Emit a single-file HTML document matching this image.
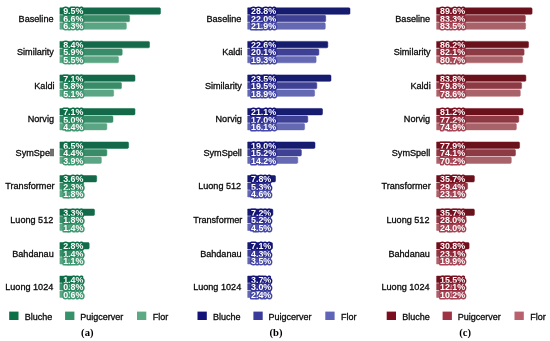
<!DOCTYPE html>
<html><head><meta charset="utf-8"><title>Error rates</title>
<style>
html,body{margin:0;padding:0;background:#fff;}
svg{display:block;}
.l{font-family:"Liberation Sans",Arial,sans-serif;fill:#0a0a0a;stroke:#0a0a0a;stroke-width:0.3;}
.v{font-family:"Liberation Sans",Arial,sans-serif;font-weight:bold;fill:#fff;stroke-linejoin:round;paint-order:stroke fill;}
.c{font-family:"Liberation Serif","Times New Roman",serif;font-weight:bold;fill:#000;}
</style></head>
<body>
<svg width="550" height="341" viewBox="0 0 550 341">
<rect width="550" height="341" fill="#ffffff"/>
<g>
<text class="l" x="53.5" y="21.80" font-size="9.1" text-anchor="end">Baseline</text>
<path d="M59.9 7.85H159.4Q160.5 7.85 160.5 8.95V13.20Q160.5 14.30 159.4 14.30H59.9Z" fill="#14694b" stroke="#0b6f47" stroke-width="0.5"/>
<path d="M59.9 15.35H128.5Q129.6 15.35 129.6 16.45V20.70Q129.6 21.80 128.5 21.80H59.9Z" fill="#3a8c69" stroke="#35926a" stroke-width="0.5"/>
<path d="M59.9 22.85H125.3Q126.4 22.85 126.4 23.95V28.20Q126.4 29.30 125.3 29.30H59.9Z" fill="#5aa584" stroke="#5caa84" stroke-width="0.5"/>
<text class="v" x="63.2" y="14.45" font-size="8.9" stroke="#0b6f47" stroke-width="3.0">9.5%</text>
<text class="v" x="63.2" y="21.95" font-size="8.9" stroke="#27855c" stroke-width="3.0">6.6%</text>
<text class="v" x="63.2" y="29.45" font-size="8.9" stroke="#3f9871" stroke-width="3.0">6.3%</text>
<text class="l" x="53.9" y="55.33" font-size="9.1" text-anchor="end">Similarity</text>
<path d="M59.9 41.38H148.4Q149.5 41.38 149.5 42.48V46.73Q149.5 47.83 148.4 47.83H59.9Z" fill="#14694b" stroke="#0b6f47" stroke-width="0.5"/>
<path d="M59.9 48.88H121.1Q122.2 48.88 122.2 49.98V54.23Q122.2 55.33 121.1 55.33H59.9Z" fill="#3a8c69" stroke="#35926a" stroke-width="0.5"/>
<path d="M59.9 56.38H117.4Q118.5 56.38 118.5 57.48V61.73Q118.5 62.83 117.4 62.83H59.9Z" fill="#5aa584" stroke="#5caa84" stroke-width="0.5"/>
<text class="v" x="63.2" y="47.98" font-size="8.9" stroke="#0b6f47" stroke-width="3.0">8.4%</text>
<text class="v" x="63.2" y="55.48" font-size="8.9" stroke="#27855c" stroke-width="3.0">5.9%</text>
<text class="v" x="63.2" y="62.98" font-size="8.9" stroke="#3f9871" stroke-width="3.0">5.5%</text>
<text class="l" x="54.5" y="88.86" font-size="9.1" text-anchor="end">Kaldi</text>
<path d="M59.9 74.91H133.9Q135.0 74.91 135.0 76.01V80.26Q135.0 81.36 133.9 81.36H59.9Z" fill="#14694b" stroke="#0b6f47" stroke-width="0.5"/>
<path d="M59.9 82.41H120.4Q121.5 82.41 121.5 83.51V87.76Q121.5 88.86 120.4 88.86H59.9Z" fill="#3a8c69" stroke="#35926a" stroke-width="0.5"/>
<path d="M59.9 89.91H112.6Q113.7 89.91 113.7 91.01V95.26Q113.7 96.36 112.6 96.36H59.9Z" fill="#5aa584" stroke="#5caa84" stroke-width="0.5"/>
<text class="v" x="63.2" y="81.51" font-size="8.9" stroke="#0b6f47" stroke-width="3.0">7.1%</text>
<text class="v" x="63.2" y="89.01" font-size="8.9" stroke="#27855c" stroke-width="3.0">5.8%</text>
<text class="v" x="63.2" y="96.51" font-size="8.9" stroke="#3f9871" stroke-width="3.0">5.1%</text>
<text class="l" x="54.0" y="122.39" font-size="9.1" text-anchor="end">Norvig</text>
<path d="M59.9 108.44H133.9Q135.0 108.44 135.0 109.54V113.79Q135.0 114.89 133.9 114.89H59.9Z" fill="#14694b" stroke="#0b6f47" stroke-width="0.5"/>
<path d="M59.9 115.94H111.9Q113.0 115.94 113.0 117.04V121.29Q113.0 122.39 111.9 122.39H59.9Z" fill="#3a8c69" stroke="#35926a" stroke-width="0.5"/>
<path d="M59.9 123.44H105.8Q106.9 123.44 106.9 124.54V128.79Q106.9 129.89 105.8 129.89H59.9Z" fill="#5aa584" stroke="#5caa84" stroke-width="0.5"/>
<text class="v" x="63.2" y="115.04" font-size="8.9" stroke="#0b6f47" stroke-width="3.0">7.1%</text>
<text class="v" x="63.2" y="122.54" font-size="8.9" stroke="#27855c" stroke-width="3.0">5.0%</text>
<text class="v" x="63.2" y="130.04" font-size="8.9" stroke="#3f9871" stroke-width="3.0">4.4%</text>
<text class="l" x="54.0" y="155.92" font-size="9.1" text-anchor="end">SymSpell</text>
<path d="M59.9 141.97H127.5Q128.6 141.97 128.6 143.07V147.32Q128.6 148.42 127.5 148.42H59.9Z" fill="#14694b" stroke="#0b6f47" stroke-width="0.5"/>
<path d="M59.9 149.47H105.8Q106.9 149.47 106.9 150.57V154.82Q106.9 155.92 105.8 155.92H59.9Z" fill="#3a8c69" stroke="#35926a" stroke-width="0.5"/>
<path d="M59.9 156.97H100.3Q101.4 156.97 101.4 158.07V162.32Q101.4 163.42 100.3 163.42H59.9Z" fill="#5aa584" stroke="#5caa84" stroke-width="0.5"/>
<text class="v" x="63.2" y="148.57" font-size="8.9" stroke="#0b6f47" stroke-width="3.0">6.5%</text>
<text class="v" x="63.2" y="156.07" font-size="8.9" stroke="#27855c" stroke-width="3.0">4.4%</text>
<text class="v" x="63.2" y="163.57" font-size="8.9" stroke="#3f9871" stroke-width="3.0">3.9%</text>
<text class="l" x="54.5" y="189.45" font-size="9.1" text-anchor="end">Transformer</text>
<path d="M59.9 175.50H95.6Q96.7 175.50 96.7 176.60V180.85Q96.7 181.95 95.6 181.95H59.9Z" fill="#14694b" stroke="#0b6f47" stroke-width="0.5"/>
<path d="M59.9 183.00H82.7Q83.8 183.00 83.8 184.10V188.35Q83.8 189.45 82.7 189.45H59.9Z" fill="#3a8c69" stroke="#35926a" stroke-width="0.5"/>
<path d="M59.9 190.50H77.4Q78.5 190.50 78.5 191.60V195.85Q78.5 196.95 77.4 196.95H59.9Z" fill="#5aa584" stroke="#5caa84" stroke-width="0.5"/>
<text class="v" x="63.2" y="182.10" font-size="8.9" stroke="#0b6f47" stroke-width="3.0">3.6%</text>
<text class="v" x="63.2" y="189.60" font-size="8.9" stroke="#27855c" stroke-width="3.0">2.3%</text>
<text class="v" x="63.2" y="197.10" font-size="8.9" stroke="#3f9871" stroke-width="3.0">1.8%</text>
<text class="l" x="53.3" y="222.98" font-size="9.1" text-anchor="end">Luong 512</text>
<path d="M59.9 209.03H93.4Q94.5 209.03 94.5 210.13V214.38Q94.5 215.48 93.4 215.48H59.9Z" fill="#14694b" stroke="#0b6f47" stroke-width="0.5"/>
<path d="M59.9 216.53H77.4Q78.5 216.53 78.5 217.63V221.88Q78.5 222.98 77.4 222.98H59.9Z" fill="#3a8c69" stroke="#35926a" stroke-width="0.5"/>
<path d="M59.9 224.03H73.2Q74.3 224.03 74.3 225.13V229.38Q74.3 230.48 73.2 230.48H59.9Z" fill="#5aa584" stroke="#5caa84" stroke-width="0.5"/>
<text class="v" x="63.2" y="215.63" font-size="8.9" stroke="#0b6f47" stroke-width="3.0">3.3%</text>
<text class="v" x="63.2" y="223.13" font-size="8.9" stroke="#27855c" stroke-width="3.0">1.8%</text>
<text class="v" x="63.2" y="230.63" font-size="8.9" stroke="#3f9871" stroke-width="3.0">1.4%</text>
<text class="l" x="53.7" y="256.51" font-size="9.1" text-anchor="end">Bahdanau</text>
<path d="M59.9 242.56H88.1Q89.2 242.56 89.2 243.66V247.91Q89.2 249.01 88.1 249.01H59.9Z" fill="#14694b" stroke="#0b6f47" stroke-width="0.5"/>
<path d="M59.9 250.06H73.2Q74.3 250.06 74.3 251.16V255.41Q74.3 256.51 73.2 256.51H59.9Z" fill="#3a8c69" stroke="#35926a" stroke-width="0.5"/>
<path d="M59.9 257.56H70.0Q71.1 257.56 71.1 258.66V262.91Q71.1 264.01 70.0 264.01H59.9Z" fill="#5aa584" stroke="#5caa84" stroke-width="0.5"/>
<text class="v" x="63.2" y="249.16" font-size="8.9" stroke="#0b6f47" stroke-width="3.0">2.8%</text>
<text class="v" x="63.2" y="256.66" font-size="8.9" stroke="#27855c" stroke-width="3.0">1.4%</text>
<text class="v" x="63.2" y="264.16" font-size="8.9" stroke="#3f9871" stroke-width="3.0">1.1%</text>
<text class="l" x="53.3" y="290.04" font-size="9.1" text-anchor="end">Luong 1024</text>
<path d="M59.9 276.09H73.2Q74.3 276.09 74.3 277.19V281.44Q74.3 282.54 73.2 282.54H59.9Z" fill="#14694b" stroke="#0b6f47" stroke-width="0.5"/>
<path d="M59.9 283.59H66.8Q67.9 283.59 67.9 284.69V288.94Q67.9 290.04 66.8 290.04H59.9Z" fill="#3a8c69" stroke="#35926a" stroke-width="0.5"/>
<path d="M59.9 291.09H64.6Q65.7 291.09 65.7 292.19V296.44Q65.7 297.54 64.6 297.54H59.9Z" fill="#5aa584" stroke="#5caa84" stroke-width="0.5"/>
<text class="v" x="63.2" y="282.69" font-size="8.9" stroke="#0b6f47" stroke-width="3.0">1.4%</text>
<text class="v" x="63.2" y="290.19" font-size="8.9" stroke="#27855c" stroke-width="3.0">0.8%</text>
<text class="v" x="63.2" y="297.69" font-size="8.9" stroke="#3f9871" stroke-width="3.0">0.6%</text>
<rect x="9.2" y="311.6" width="9.3" height="8.4" fill="#0b6f47"/>
<text class="l" x="24.8" y="319.8" font-size="9">Bluche</text>
<rect x="65.1" y="311.6" width="9.3" height="8.4" fill="#35926a"/>
<text class="l" x="80.3" y="319.8" font-size="9">Puigcerver</text>
<rect x="137.0" y="311.6" width="9.3" height="8.4" fill="#5caa84"/>
<text class="l" x="152.8" y="319.8" font-size="9">Flor</text>
<text class="c" x="87.3" y="335.9" font-size="10.6" text-anchor="middle">(a)</text>
</g>
<g>
<text class="l" x="241.4" y="21.80" font-size="9.1" text-anchor="end">Baseline</text>
<path d="M247.7 7.85H348.9Q350.0 7.85 350.0 8.95V13.20Q350.0 14.30 348.9 14.30H247.7Z" fill="#161c6e" stroke="#121278" stroke-width="0.5"/>
<path d="M247.7 15.35H324.6Q325.7 15.35 325.7 16.45V20.70Q325.7 21.80 324.6 21.80H247.7Z" fill="#3e4194" stroke="#3a3a9c" stroke-width="0.5"/>
<path d="M247.7 22.85H324.2Q325.3 22.85 325.3 23.95V28.20Q325.3 29.30 324.2 29.30H247.7Z" fill="#6469b2" stroke="#5f64b9" stroke-width="0.5"/>
<text class="v" x="251.0" y="14.45" font-size="8.9" stroke="#121278" stroke-width="3.0">28.8%</text>
<text class="v" x="251.0" y="21.95" font-size="8.9" stroke="#2d2d90" stroke-width="3.0">22.0%</text>
<text class="v" x="251.0" y="29.45" font-size="8.9" stroke="#4548a6" stroke-width="3.0">21.9%</text>
<text class="l" x="242.4" y="55.33" font-size="9.1" text-anchor="end">Kaldi</text>
<path d="M247.7 41.38H326.7Q327.8 41.38 327.8 42.48V46.73Q327.8 47.83 326.7 47.83H247.7Z" fill="#161c6e" stroke="#121278" stroke-width="0.5"/>
<path d="M247.7 48.88H317.8Q318.9 48.88 318.9 49.98V54.23Q318.9 55.33 317.8 55.33H247.7Z" fill="#3e4194" stroke="#3a3a9c" stroke-width="0.5"/>
<path d="M247.7 56.38H315.0Q316.1 56.38 316.1 57.48V61.73Q316.1 62.83 315.0 62.83H247.7Z" fill="#6469b2" stroke="#5f64b9" stroke-width="0.5"/>
<text class="v" x="251.0" y="47.98" font-size="8.9" stroke="#121278" stroke-width="3.0">22.6%</text>
<text class="v" x="251.0" y="55.48" font-size="8.9" stroke="#2d2d90" stroke-width="3.0">20.1%</text>
<text class="v" x="251.0" y="62.98" font-size="8.9" stroke="#4548a6" stroke-width="3.0">19.3%</text>
<text class="l" x="241.8" y="88.86" font-size="9.1" text-anchor="end">Similarity</text>
<path d="M247.7 74.91H329.9Q331.0 74.91 331.0 76.01V80.26Q331.0 81.36 329.9 81.36H247.7Z" fill="#161c6e" stroke="#121278" stroke-width="0.5"/>
<path d="M247.7 82.41H315.7Q316.8 82.41 316.8 83.51V87.76Q316.8 88.86 315.7 88.86H247.7Z" fill="#3e4194" stroke="#3a3a9c" stroke-width="0.5"/>
<path d="M247.7 89.91H313.5Q314.6 89.91 314.6 91.01V95.26Q314.6 96.36 313.5 96.36H247.7Z" fill="#6469b2" stroke="#5f64b9" stroke-width="0.5"/>
<text class="v" x="251.0" y="81.51" font-size="8.9" stroke="#121278" stroke-width="3.0">23.5%</text>
<text class="v" x="251.0" y="89.01" font-size="8.9" stroke="#2d2d90" stroke-width="3.0">19.5%</text>
<text class="v" x="251.0" y="96.51" font-size="8.9" stroke="#4548a6" stroke-width="3.0">18.9%</text>
<text class="l" x="241.8" y="122.39" font-size="9.1" text-anchor="end">Norvig</text>
<path d="M247.7 108.44H321.4Q322.5 108.44 322.5 109.54V113.79Q322.5 114.89 321.4 114.89H247.7Z" fill="#161c6e" stroke="#121278" stroke-width="0.5"/>
<path d="M247.7 115.94H306.7Q307.8 115.94 307.8 117.04V121.29Q307.8 122.39 306.7 122.39H247.7Z" fill="#3e4194" stroke="#3a3a9c" stroke-width="0.5"/>
<path d="M247.7 123.44H303.5Q304.6 123.44 304.6 124.54V128.79Q304.6 129.89 303.5 129.89H247.7Z" fill="#6469b2" stroke="#5f64b9" stroke-width="0.5"/>
<text class="v" x="251.0" y="115.04" font-size="8.9" stroke="#121278" stroke-width="3.0">21.1%</text>
<text class="v" x="251.0" y="122.54" font-size="8.9" stroke="#2d2d90" stroke-width="3.0">17.0%</text>
<text class="v" x="251.0" y="130.04" font-size="8.9" stroke="#4548a6" stroke-width="3.0">16.1%</text>
<text class="l" x="241.9" y="155.92" font-size="9.1" text-anchor="end">SymSpell</text>
<path d="M247.7 141.97H313.9Q315.0 141.97 315.0 143.07V147.32Q315.0 148.42 313.9 148.42H247.7Z" fill="#161c6e" stroke="#121278" stroke-width="0.5"/>
<path d="M247.7 149.47H300.3Q301.4 149.47 301.4 150.57V154.82Q301.4 155.92 300.3 155.92H247.7Z" fill="#3e4194" stroke="#3a3a9c" stroke-width="0.5"/>
<path d="M247.7 156.97H296.7Q297.8 156.97 297.8 158.07V162.32Q297.8 163.42 296.7 163.42H247.7Z" fill="#6469b2" stroke="#5f64b9" stroke-width="0.5"/>
<text class="v" x="251.0" y="148.57" font-size="8.9" stroke="#121278" stroke-width="3.0">19.0%</text>
<text class="v" x="251.0" y="156.07" font-size="8.9" stroke="#2d2d90" stroke-width="3.0">15.2%</text>
<text class="v" x="251.0" y="163.57" font-size="8.9" stroke="#4548a6" stroke-width="3.0">14.2%</text>
<text class="l" x="241.2" y="189.45" font-size="9.1" text-anchor="end">Luong 512</text>
<path d="M247.7 175.50H274.4Q275.5 175.50 275.5 176.60V180.85Q275.5 181.95 274.4 181.95H247.7Z" fill="#161c6e" stroke="#121278" stroke-width="0.5"/>
<path d="M247.7 183.00H265.0Q266.1 183.00 266.1 184.10V188.35Q266.1 189.45 265.0 189.45H247.7Z" fill="#3e4194" stroke="#3a3a9c" stroke-width="0.5"/>
<path d="M247.7 190.50H262.5Q263.6 190.50 263.6 191.60V195.85Q263.6 196.95 262.5 196.95H247.7Z" fill="#6469b2" stroke="#5f64b9" stroke-width="0.5"/>
<text class="v" x="251.0" y="182.10" font-size="8.9" stroke="#121278" stroke-width="3.0">7.8%</text>
<text class="v" x="251.0" y="189.60" font-size="8.9" stroke="#2d2d90" stroke-width="3.0">5.3%</text>
<text class="v" x="251.0" y="197.10" font-size="8.9" stroke="#4548a6" stroke-width="3.0">4.6%</text>
<text class="l" x="242.4" y="222.98" font-size="9.1" text-anchor="end">Transformer</text>
<path d="M247.7 209.03H271.8Q272.9 209.03 272.9 210.13V214.38Q272.9 215.48 271.8 215.48H247.7Z" fill="#161c6e" stroke="#121278" stroke-width="0.5"/>
<path d="M247.7 216.53H264.6Q265.7 216.53 265.7 217.63V221.88Q265.7 222.98 264.6 222.98H247.7Z" fill="#3e4194" stroke="#3a3a9c" stroke-width="0.5"/>
<path d="M247.7 224.03H262.1Q263.2 224.03 263.2 225.13V229.38Q263.2 230.48 262.1 230.48H247.7Z" fill="#6469b2" stroke="#5f64b9" stroke-width="0.5"/>
<text class="v" x="251.0" y="215.63" font-size="8.9" stroke="#121278" stroke-width="3.0">7.2%</text>
<text class="v" x="251.0" y="223.13" font-size="8.9" stroke="#2d2d90" stroke-width="3.0">5.2%</text>
<text class="v" x="251.0" y="230.63" font-size="8.9" stroke="#4548a6" stroke-width="3.0">4.5%</text>
<text class="l" x="241.6" y="256.51" font-size="9.1" text-anchor="end">Bahdanau</text>
<path d="M247.7 242.56H271.4Q272.5 242.56 272.5 243.66V247.91Q272.5 249.01 271.4 249.01H247.7Z" fill="#161c6e" stroke="#121278" stroke-width="0.5"/>
<path d="M247.7 250.06H261.4Q262.5 250.06 262.5 251.16V255.41Q262.5 256.51 261.4 256.51H247.7Z" fill="#3e4194" stroke="#3a3a9c" stroke-width="0.5"/>
<path d="M247.7 257.56H258.5Q259.6 257.56 259.6 258.66V262.91Q259.6 264.01 258.5 264.01H247.7Z" fill="#6469b2" stroke="#5f64b9" stroke-width="0.5"/>
<text class="v" x="251.0" y="249.16" font-size="8.9" stroke="#121278" stroke-width="3.0">7.1%</text>
<text class="v" x="251.0" y="256.66" font-size="8.9" stroke="#2d2d90" stroke-width="3.0">4.3%</text>
<text class="v" x="251.0" y="264.16" font-size="8.9" stroke="#4548a6" stroke-width="3.0">3.5%</text>
<text class="l" x="241.2" y="290.04" font-size="9.1" text-anchor="end">Luong 1024</text>
<path d="M247.7 276.09H259.3Q260.4 276.09 260.4 277.19V281.44Q260.4 282.54 259.3 282.54H247.7Z" fill="#161c6e" stroke="#121278" stroke-width="0.5"/>
<path d="M247.7 283.59H256.8Q257.9 283.59 257.9 284.69V288.94Q257.9 290.04 256.8 290.04H247.7Z" fill="#3e4194" stroke="#3a3a9c" stroke-width="0.5"/>
<path d="M247.7 291.09H254.6Q255.7 291.09 255.7 292.19V296.44Q255.7 297.54 254.6 297.54H247.7Z" fill="#6469b2" stroke="#5f64b9" stroke-width="0.5"/>
<text class="v" x="251.0" y="282.69" font-size="8.9" stroke="#121278" stroke-width="3.0">3.7%</text>
<text class="v" x="251.0" y="290.19" font-size="8.9" stroke="#2d2d90" stroke-width="3.0">3.0%</text>
<text class="v" x="251.0" y="297.69" font-size="8.9" stroke="#4548a6" stroke-width="3.0">2.4%</text>
<rect x="197.5" y="311.6" width="9.3" height="8.4" fill="#121278"/>
<text class="l" x="213.1" y="319.8" font-size="9">Bluche</text>
<rect x="253.4" y="311.6" width="9.3" height="8.4" fill="#3a3a9c"/>
<text class="l" x="268.6" y="319.8" font-size="9">Puigcerver</text>
<rect x="325.3" y="311.6" width="9.3" height="8.4" fill="#5f64b9"/>
<text class="l" x="341.1" y="319.8" font-size="9">Flor</text>
<text class="c" x="276.0" y="335.9" font-size="10.6" text-anchor="middle">(b)</text>
</g>
<g>
<text class="l" x="430.2" y="21.80" font-size="9.1" text-anchor="end">Baseline</text>
<path d="M436.6 7.85H531.0Q532.1 7.85 532.1 8.95V13.20Q532.1 14.30 531.0 14.30H436.6Z" fill="#69121c" stroke="#7a0e1f" stroke-width="0.5"/>
<path d="M436.6 15.35H524.3Q525.4 15.35 525.4 16.45V20.70Q525.4 21.80 524.3 21.80H436.6Z" fill="#8c3a43" stroke="#9d3444" stroke-width="0.5"/>
<path d="M436.6 22.85H524.5Q525.6 22.85 525.6 23.95V28.20Q525.6 29.30 524.5 29.30H436.6Z" fill="#a8636a" stroke="#b8606b" stroke-width="0.5"/>
<text class="v" x="440.0" y="14.45" font-size="8.9" stroke="#7a0e1f" stroke-width="3.0">89.6%</text>
<text class="v" x="440.0" y="21.95" font-size="8.9" stroke="#922839" stroke-width="3.0">83.3%</text>
<text class="v" x="440.0" y="29.45" font-size="8.9" stroke="#a54454" stroke-width="3.0">83.5%</text>
<text class="l" x="430.6" y="55.33" font-size="9.1" text-anchor="end">Similarity</text>
<path d="M436.6 41.38H527.4Q528.5 41.38 528.5 42.48V46.73Q528.5 47.83 527.4 47.83H436.6Z" fill="#69121c" stroke="#7a0e1f" stroke-width="0.5"/>
<path d="M436.6 48.88H523.0Q524.1 48.88 524.1 49.98V54.23Q524.1 55.33 523.0 55.33H436.6Z" fill="#8c3a43" stroke="#9d3444" stroke-width="0.5"/>
<path d="M436.6 56.38H521.5Q522.6 56.38 522.6 57.48V61.73Q522.6 62.83 521.5 62.83H436.6Z" fill="#a8636a" stroke="#b8606b" stroke-width="0.5"/>
<text class="v" x="440.0" y="47.98" font-size="8.9" stroke="#7a0e1f" stroke-width="3.0">86.2%</text>
<text class="v" x="440.0" y="55.48" font-size="8.9" stroke="#922839" stroke-width="3.0">82.1%</text>
<text class="v" x="440.0" y="62.98" font-size="8.9" stroke="#a54454" stroke-width="3.0">80.7%</text>
<text class="l" x="430.7" y="88.86" font-size="9.1" text-anchor="end">Kaldi</text>
<path d="M436.6 74.91H524.8Q525.9 74.91 525.9 76.01V80.26Q525.9 81.36 524.8 81.36H436.6Z" fill="#69121c" stroke="#7a0e1f" stroke-width="0.5"/>
<path d="M436.6 82.41H520.5Q521.6 82.41 521.6 83.51V87.76Q521.6 88.86 520.5 88.86H436.6Z" fill="#8c3a43" stroke="#9d3444" stroke-width="0.5"/>
<path d="M436.6 89.91H519.2Q520.3 89.91 520.3 91.01V95.26Q520.3 96.36 519.2 96.36H436.6Z" fill="#a8636a" stroke="#b8606b" stroke-width="0.5"/>
<text class="v" x="440.0" y="81.51" font-size="8.9" stroke="#7a0e1f" stroke-width="3.0">83.8%</text>
<text class="v" x="440.0" y="89.01" font-size="8.9" stroke="#922839" stroke-width="3.0">79.8%</text>
<text class="v" x="440.0" y="96.51" font-size="8.9" stroke="#a54454" stroke-width="3.0">78.6%</text>
<text class="l" x="430.1" y="122.39" font-size="9.1" text-anchor="end">Norvig</text>
<path d="M436.6 108.44H522.0Q523.1 108.44 523.1 109.54V113.79Q523.1 114.89 522.0 114.89H436.6Z" fill="#69121c" stroke="#7a0e1f" stroke-width="0.5"/>
<path d="M436.6 115.94H517.7Q518.8 115.94 518.8 117.04V121.29Q518.8 122.39 517.7 122.39H436.6Z" fill="#8c3a43" stroke="#9d3444" stroke-width="0.5"/>
<path d="M436.6 123.44H515.3Q516.4 123.44 516.4 124.54V128.79Q516.4 129.89 515.3 129.89H436.6Z" fill="#a8636a" stroke="#b8606b" stroke-width="0.5"/>
<text class="v" x="440.0" y="115.04" font-size="8.9" stroke="#7a0e1f" stroke-width="3.0">81.2%</text>
<text class="v" x="440.0" y="122.54" font-size="8.9" stroke="#922839" stroke-width="3.0">77.2%</text>
<text class="v" x="440.0" y="130.04" font-size="8.9" stroke="#a54454" stroke-width="3.0">74.9%</text>
<text class="l" x="430.2" y="155.92" font-size="9.1" text-anchor="end">SymSpell</text>
<path d="M436.6 141.97H518.5Q519.6 141.97 519.6 143.07V147.32Q519.6 148.42 518.5 148.42H436.6Z" fill="#69121c" stroke="#7a0e1f" stroke-width="0.5"/>
<path d="M436.6 149.47H514.4Q515.5 149.47 515.5 150.57V154.82Q515.5 155.92 514.4 155.92H436.6Z" fill="#8c3a43" stroke="#9d3444" stroke-width="0.5"/>
<path d="M436.6 156.97H510.2Q511.3 156.97 511.3 158.07V162.32Q511.3 163.42 510.2 163.42H436.6Z" fill="#a8636a" stroke="#b8606b" stroke-width="0.5"/>
<text class="v" x="440.0" y="148.57" font-size="8.9" stroke="#7a0e1f" stroke-width="3.0">77.9%</text>
<text class="v" x="440.0" y="156.07" font-size="8.9" stroke="#922839" stroke-width="3.0">74.1%</text>
<text class="v" x="440.0" y="163.57" font-size="8.9" stroke="#a54454" stroke-width="3.0">70.2%</text>
<text class="l" x="430.7" y="189.45" font-size="9.1" text-anchor="end">Transformer</text>
<path d="M436.6 175.50H473.3Q474.4 175.50 474.4 176.60V180.85Q474.4 181.95 473.3 181.95H436.6Z" fill="#69121c" stroke="#7a0e1f" stroke-width="0.5"/>
<path d="M436.6 183.00H466.5Q467.6 183.00 467.6 184.10V188.35Q467.6 189.45 466.5 189.45H436.6Z" fill="#8c3a43" stroke="#9d3444" stroke-width="0.5"/>
<path d="M436.6 190.50H459.8Q460.9 190.50 460.9 191.60V195.85Q460.9 196.95 459.8 196.95H436.6Z" fill="#a8636a" stroke="#b8606b" stroke-width="0.5"/>
<text class="v" x="440.0" y="182.10" font-size="8.9" stroke="#7a0e1f" stroke-width="3.0">35.7%</text>
<text class="v" x="440.0" y="189.60" font-size="8.9" stroke="#922839" stroke-width="3.0">29.4%</text>
<text class="v" x="440.0" y="197.10" font-size="8.9" stroke="#a54454" stroke-width="3.0">23.1%</text>
<text class="l" x="429.5" y="222.98" font-size="9.1" text-anchor="end">Luong 512</text>
<path d="M436.6 209.03H473.3Q474.4 209.03 474.4 210.13V214.38Q474.4 215.48 473.3 215.48H436.6Z" fill="#69121c" stroke="#7a0e1f" stroke-width="0.5"/>
<path d="M436.6 216.53H465.0Q466.1 216.53 466.1 217.63V221.88Q466.1 222.98 465.0 222.98H436.6Z" fill="#8c3a43" stroke="#9d3444" stroke-width="0.5"/>
<path d="M436.6 224.03H460.8Q461.9 224.03 461.9 225.13V229.38Q461.9 230.48 460.8 230.48H436.6Z" fill="#a8636a" stroke="#b8606b" stroke-width="0.5"/>
<text class="v" x="440.0" y="215.63" font-size="8.9" stroke="#7a0e1f" stroke-width="3.0">35.7%</text>
<text class="v" x="440.0" y="223.13" font-size="8.9" stroke="#922839" stroke-width="3.0">28.0%</text>
<text class="v" x="440.0" y="230.63" font-size="8.9" stroke="#a54454" stroke-width="3.0">24.0%</text>
<text class="l" x="429.9" y="256.51" font-size="9.1" text-anchor="end">Bahdanau</text>
<path d="M436.6 242.56H468.0Q469.1 242.56 469.1 243.66V247.91Q469.1 249.01 468.0 249.01H436.6Z" fill="#69121c" stroke="#7a0e1f" stroke-width="0.5"/>
<path d="M436.6 250.06H459.8Q460.9 250.06 460.9 251.16V255.41Q460.9 256.51 459.8 256.51H436.6Z" fill="#8c3a43" stroke="#9d3444" stroke-width="0.5"/>
<path d="M436.6 257.56H456.4Q457.5 257.56 457.5 258.66V262.91Q457.5 264.01 456.4 264.01H436.6Z" fill="#a8636a" stroke="#b8606b" stroke-width="0.5"/>
<text class="v" x="440.0" y="249.16" font-size="8.9" stroke="#7a0e1f" stroke-width="3.0">30.8%</text>
<text class="v" x="440.0" y="256.66" font-size="8.9" stroke="#922839" stroke-width="3.0">23.1%</text>
<text class="v" x="440.0" y="264.16" font-size="8.9" stroke="#a54454" stroke-width="3.0">19.9%</text>
<text class="l" x="429.5" y="290.04" font-size="9.1" text-anchor="end">Luong 1024</text>
<path d="M436.6 276.09H451.7Q452.8 276.09 452.8 277.19V281.44Q452.8 282.54 451.7 282.54H436.6Z" fill="#69121c" stroke="#7a0e1f" stroke-width="0.5"/>
<path d="M436.6 283.59H448.0Q449.1 283.59 449.1 284.69V288.94Q449.1 290.04 448.0 290.04H436.6Z" fill="#8c3a43" stroke="#9d3444" stroke-width="0.5"/>
<path d="M436.6 291.09H446.0Q447.1 291.09 447.1 292.19V296.44Q447.1 297.54 446.0 297.54H436.6Z" fill="#a8636a" stroke="#b8606b" stroke-width="0.5"/>
<text class="v" x="440.0" y="282.69" font-size="8.9" stroke="#7a0e1f" stroke-width="3.0">15.5%</text>
<text class="v" x="440.0" y="290.19" font-size="8.9" stroke="#922839" stroke-width="3.0">12.1%</text>
<text class="v" x="440.0" y="297.69" font-size="8.9" stroke="#a54454" stroke-width="3.0">10.2%</text>
<rect x="386.7" y="311.6" width="9.3" height="8.4" fill="#7a0e1f"/>
<text class="l" x="402.3" y="319.8" font-size="9">Bluche</text>
<rect x="442.6" y="311.6" width="9.3" height="8.4" fill="#9d3444"/>
<text class="l" x="457.8" y="319.8" font-size="9">Puigcerver</text>
<rect x="514.5" y="311.6" width="9.3" height="8.4" fill="#b8606b"/>
<text class="l" x="530.3" y="319.8" font-size="9">Flor</text>
<text class="c" x="465.2" y="335.9" font-size="10.6" text-anchor="middle">(c)</text>
</g>
</svg>
</body></html>
